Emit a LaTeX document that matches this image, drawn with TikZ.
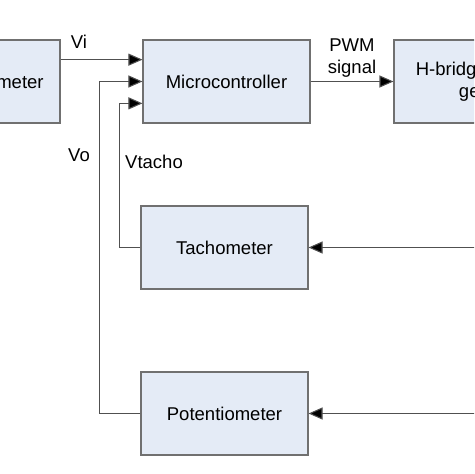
\documentclass[tikz,border=0pt]{standalone}
\usepackage{fontspec}
\setmainfont{Liberation Sans}
\usepackage{tikz}
\usetikzlibrary{arrows.meta, positioning, calc}
\definecolor{boxfill}{RGB}{228, 235, 246}
\definecolor{boxline}{RGB}{112, 112, 112}
\definecolor{wire}{RGB}{80, 80, 80}
\tikzstyle{block} = [rectangle, minimum width=5.01cm, minimum height=2.49cm, text centered, draw=boxline, fill=boxfill, line width=0.9pt, font=\fontsize{15.8}{18.7}\selectfont]
\tikzstyle{arrow} = [draw=wire, line width=0.9pt, -{Triangle[length=0.42cm, width=0.36cm, fill=black]}]
\tikzstyle{lbl} = [font=\fontsize{15.8}{18.7}\selectfont, inner sep=1pt]

\begin{document}
\begin{tikzpicture}[x=0.03cm, y=-0.03cm]
    % frame
    \useasboundingbox (0,0) rectangle (474,474);
    \clip (0,0) rectangle (474,474);

    % Blocks
    \node[block, minimum width=4.44cm] (ref) at (-14, 81.5) {Potentiometer};
    \node[block] (mcu) at (226.5, 81.5) {Microcontroller};
    \node[block, align=center] (hbridge) at (477.5, 81.5) {H-bridge motor\\gear};
    \node[block] (tacho) at (224.5, 247.5) {Tachometer};
    \node[block] (pot) at (224.5, 413.5) {Potentiometer};

    % Free ends on the right
    \coordinate (tachoin) at (480, 247.5);
    \coordinate (potin) at (480, 413.5);

    % Arrows
    \draw[arrow] ($(ref.north east)!0.24!(ref.south east)$) -- ($(mcu.north west)!0.24!(mcu.south west)$);
    \draw[arrow] (pot.west) -- ++(-41,0) |- (mcu.west);
    \draw[arrow] (tacho.west) -- ++(-21,0) |- ($(mcu.north west)!0.76!(mcu.south west)$);
    \draw[arrow] (mcu.east) -- node[lbl, above, align=center, inner sep=3pt] {PWM\\signal} (hbridge.west);
    \draw[arrow] (tachoin) -- (tacho.east);
    \draw[arrow] (potin) -- (pot.east);

    % Signal names
    \node[lbl] (vi) at (79, 42) {Vi};
    \node[lbl] (vo) at (79, 155) {Vo};
    \node[lbl] (vtacho) at (154, 162) {Vtacho};

\end{tikzpicture}
\end{document}
